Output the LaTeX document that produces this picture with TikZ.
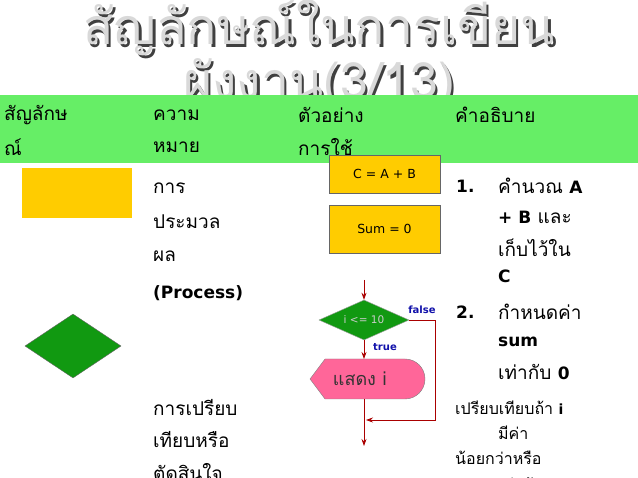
\documentclass[tikz,border=0pt]{standalone}
\usepackage{fontspec}
\setmainfont[Script=Thai]{Loma}
\newfontfamily\lat{DejaVu Sans}
\usetikzlibrary{shapes.geometric,arrows.meta}
\definecolor{band}{HTML}{66EE66}
\definecolor{ybox}{HTML}{FFCC00}
\definecolor{gdia}{HTML}{119911}
\definecolor{pinkc}{HTML}{FF6699}
\definecolor{flow}{HTML}{AA0000}
\definecolor{lbl}{HTML}{1111AA}
\tikzset{
 txt/.style={anchor=west,inner sep=0pt,font=\fontsize{19}{21}\selectfont},
 ttl/.style={inner sep=0pt,font=\fontsize{50}{54}\selectfont,text=gray!30},
 yb/.style={draw=black!60,fill=ybox,inner sep=0pt},
 fl/.style={draw=flow,thick},
 fla/.style={fl,-{Stealth[length=7pt,width=5pt]}},
 lb/.style={text=lbl,font=\lat\bfseries\fontsize{10}{11}\selectfont,inner sep=0pt}
}
\begin{document}
\begin{tikzpicture}[x=1pt,y=-1pt]
\useasboundingbox (0,0) rectangle (638,478);
\clip (0,0) rectangle (638,478);
\fill[white] (0,0) rectangle (638,478);
% title
\node[ttl,text=black!75] (t1s) at (321.5,30.5) {สัญลักษณ์ในการเขียน};
\node[ttl] (t1) at (319,28) {สัญลักษณ์ในการเขียน};
\node[ttl,text=black!75] (t2s) at (321.5,86.5) {ผังงาน(3/13)};
\node[ttl] (t2) at (319,84) {ผังงาน(3/13)};
\fill[band] (0,95) rectangle (638,163);
% headers
\node[txt] (h1) at (4,115) {สัญลักษ};
\node[txt] (h1b) at (4,147) {ณ์};
\node[txt] (h2) at (153,115) {ความ};
\node[txt] (h2b) at (153,147) {หมาย};
\node[txt] (h3) at (298,115) {ตัวอย่าง};
\node[txt] (h3b) at (298,147) {การใช้};
\node[txt] (h4) at (455,115) {คำอธิบาย};
% symbols
\node[yb,draw=none,minimum width=110,minimum height=50] (rect) at (77,193) {};
\node[diamond,fill=gdia,draw=black!60,minimum width=96,minimum height=64,inner sep=0pt,aspect=1.5] (dia) at (73,346) {};
% meaning
\node[txt] (m1) at (153,188) {การ};
\node[txt] (m2) at (153,222) {ประมวล};
\node[txt] (m3) at (153,256) {ผล};
\node[txt,font=\lat\bfseries\fontsize{17}{19}\selectfont] (m4) at (153,293) {(Process)};
\node[txt] (m5) at (153,408) {การเปรียบ};
\node[txt] (m6) at (153,440) {เทียบหรือ};
\node[txt] (m7) at (153,472) {ตัดสินใจ};
% examples
\node[yb,minimum width=111,minimum height=38,font=\lat\fontsize{12.5}{14}\selectfont] (ex1) at (384.5,174) {C = A + B};
\node[yb,minimum width=111,minimum height=48,font=\lat\fontsize{12.5}{14}\selectfont] (ex2) at (384.5,229) {Sum = 0};
\coordinate (top) at (364,280);
\node[diamond,fill=gdia,draw=black!40,minimum width=90,minimum height=40,inner sep=0pt,aspect=2.25,font=\lat\fontsize{10.5}{12}\selectfont,text=white!80!black] (cond) at (364,320) {i <= 10};
\draw[fla] (top) -- (cond.north);
\draw[black!50,fill=pinkc] (310,379) -- (325,359) -- (405,359) arc[start angle=-90,end angle=90,radius=20] -- (325,399) -- cycle;
\node[inner sep=0pt,font=\fontsize{18}{20}\selectfont,text=black!80] (disp) at (360,379) {แสดง {\lat i}};
\coordinate (dtop) at (364,359);
\coordinate (dbot) at (364,399);
\draw[fla] (cond.south) -- (dtop);
\coordinate (fr) at (435,320);
\coordinate (fb) at (435,420);
\coordinate (join) at (366,420);
\draw[fla] (cond.east) -- (fr) -- (fb) -- (join);
\coordinate (end) at (364,446);
\draw[fla] (dbot) -- (end);
\node[lb] (fl1) at (422,310) {false};
\node[lb] (tl1) at (385,347) {true};
% description
\node[txt,font=\lat\bfseries\fontsize{17}{19}\selectfont] (n1) at (456,186) {1.};
\node[txt] (d1) at (498,186) {คำนวณ {\lat\bfseries\fontsize{17}{19}\selectfont A}};
\node[txt] (d2) at (498,217) {{\lat\bfseries\fontsize{17}{19}\selectfont + B} และ};
\node[txt] (d3) at (498,248) {เก็บไว้ใน};
\node[txt,font=\lat\bfseries\fontsize{17}{19}\selectfont] (d4) at (498,276) {C};
\node[txt,font=\lat\bfseries\fontsize{17}{19}\selectfont] (n2) at (456,312) {2.};
\node[txt] (d5) at (498,312) {กำหนดค่า};
\node[txt,font=\lat\bfseries\fontsize{17}{19}\selectfont] (d6) at (498,342) {sum};
\node[txt] (d7) at (498,372) {เท่ากับ {\lat\bfseries\fontsize{17}{19}\selectfont 0}};
\node[txt,font=\fontsize{16}{18}\selectfont] (d8) at (455,408) {เปรียบเทียบถ้า {\lat\bfseries\fontsize{14}{16}\selectfont i}};
\node[txt,font=\fontsize{16}{18}\selectfont] (d9) at (498,433) {มีค่า};
\node[txt,font=\fontsize{16}{18}\selectfont] (d10) at (455,458) {น้อยกว่าหรือ};
\node[txt,font=\fontsize{16}{18}\selectfont] (d11) at (498,484) {เท่ากับ {\lat\bfseries\fontsize{14}{16}\selectfont 10}};
\end{tikzpicture}
\end{document}
